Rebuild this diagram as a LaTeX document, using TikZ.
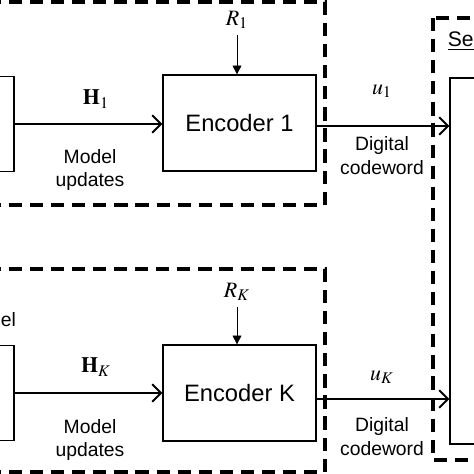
\documentclass[tikz,border=0pt]{standalone}
\usepackage{mathptmx}
\usepackage[no-math]{fontspec}
\setmainfont{Liberation Sans}
\usetikzlibrary{arrows.meta}

\begin{document}
\begin{tikzpicture}[x=0.02cm, y=-0.02cm,
        enc/.style={draw, line width=0.7pt, minimum width=3.06cm, minimum height=1.92cm,
            font=\fontsize{13.5}{16}\selectfont},
        side/.style={draw, line width=0.7pt, minimum width=3cm, minimum height=1.9cm},
        zone/.style={draw, line width=1.8pt, dash pattern=on 7.5pt off 4.5pt},
        flow/.style={line width=1.1pt, -{Straight Barb[length=5pt,width=10pt]}},
        rate/.style={line width=0.4pt, -{Triangle[length=5pt,width=5pt]}},
        note/.style={align=center, font=\fontsize{11}{13.6}\selectfont},
        sym/.style={font=\fontsize{12.5}{14}\selectfont}]

    \clip (0,0) rectangle (474,474);

    % user 1
    \draw[zone] (-20,2) rectangle (325,205);
    \node[side] (dev1) at (-61,124) {};
    \node[enc] (enc1) at (239.5,123) {Encoder 1};
    \draw[flow] (dev1.east |- 0,124) coordinate (h1s) -- (enc1.west |- h1s);
    \node[sym] (h1) at (96,99) {$\mathbf{H}_1$};
    \node[note] (mu1) at (90,170) {Model\\updates};
    \node[sym] (r1) at (237,20) {$R_1$};
    \draw[rate] (r1.south) -- (r1.south |- enc1.north);

    % user K
    \draw[zone] (-20,269) rectangle (325,472);
    \node[note, anchor=west, inner sep=0pt] (mdl) at (0.5,320) {el};
    \node[side] (devK) at (-61,393) {};
    \node[enc] (encK) at (239.5,393) {Encoder K};
    \draw[flow] (devK.east) -- (encK.west);
    \node[sym] (hK) at (96,367) {$\mathbf{H}_K$};
    \node[note] (muK) at (90,440) {Model\\updates};
    \node[sym] (rK) at (237,292) {$R_K$};
    \draw[rate] (rK.south) -- (rK.south |- encK.north);

    % server
    \draw[zone] (433,18) rectangle (600,460);
    \node[anchor=base west, inner sep=0pt, font=\fontsize{12}{14}\selectfont] (srvlbl) at (447.5,46) {\underline{Se}};
    \node[draw, line width=0.7pt, minimum width=4cm, minimum height=7.32cm] (srv) at (550,261) {};

    \draw[flow] (enc1.east |- 0,126) coordinate (u1s) -- (srv.west |- u1s);
    \node[sym] (u1) at (382,91) {$u_1$};
    \node[note] (dc1) at (382,156) {Digital\\codeword};

    \draw[flow] (encK.east |- 0,399) coordinate (uKs) -- (srv.west |- uKs);
    \node[sym] (uK) at (382,377) {$u_K$};
    \node[note] (dcK) at (382,437) {Digital\\codeword};
\end{tikzpicture}
\end{document}
